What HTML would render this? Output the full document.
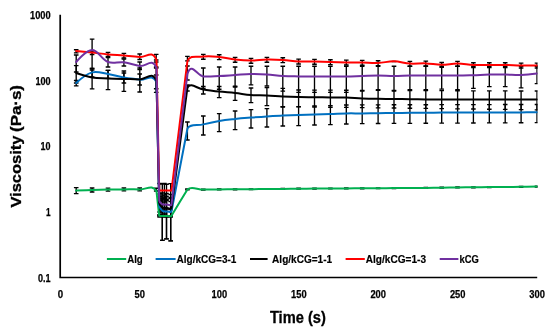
<!DOCTYPE html>
<html lang="en"><head><meta charset="utf-8"><title>Viscosity vs Time</title>
<style>html,body{margin:0;padding:0;background:#fff}body{width:550px;height:333px;overflow:hidden}</style></head>
<body>
<svg width="550" height="333" viewBox="0 0 550 333" style="display:block">
<rect width="550" height="333" fill="#fff"/>
<defs><clipPath id="pc"><rect x="60" y="10" width="477.6" height="268"/></clipPath></defs>
<g clip-path="url(#pc)">
<path d="M76.2 187.6V193.6M73.9 187.6h4.6M73.9 193.6h4.6M92.1 188.0V192.0M89.8 188.0h4.6M89.8 192.0h4.6M108.0 188.1V191.1M105.7 188.1h4.6M105.7 191.1h4.6M123.9 188.0V190.8M121.6 188.0h4.6M121.6 190.8h4.6M139.8 188.0V190.8M137.4 188.0h4.6M137.4 190.8h4.6M156.2 188.2V191.0M153.9 188.2h4.6M153.9 191.0h4.6M159.6 212.0V217.0M157.3 212.0h4.6M157.3 217.0h4.6M162.3 210.0V217.0M160.0 210.0h4.6M160.0 217.0h4.6M164.4 211.0V217.0M162.1 211.0h4.6M162.1 217.0h4.6M166.5 209.0V217.0M164.2 209.0h4.6M164.2 217.0h4.6M170.7 209.5V217.0M168.4 209.5h4.6M168.4 217.0h4.6M187.4 189.0V189.8M185.1 189.0h4.6M185.1 189.8h4.6M203.3 189.2V190.0M201.0 189.2h4.6M201.0 190.0h4.6M219.2 189.0V189.8M216.9 189.0h4.6M216.9 189.8h4.6M235.1 188.9V189.8M232.8 188.9h4.6M232.8 189.8h4.6M251.0 188.8V189.6M248.7 188.8h4.6M248.7 189.6h4.6M266.9 188.6V189.4M264.6 188.6h4.6M264.6 189.4h4.6M282.8 188.5V189.3M280.5 188.5h4.6M280.5 189.3h4.6M298.6 188.2V189.1M296.3 188.2h4.6M296.3 189.1h4.6M314.5 188.2V189.0M312.2 188.2h4.6M312.2 189.0h4.6M330.4 188.1V188.9M328.1 188.1h4.6M328.1 188.9h4.6M346.3 188.0V188.8M344.0 188.0h4.6M344.0 188.8h4.6M362.2 187.9V188.8M359.9 187.9h4.6M359.9 188.8h4.6M378.1 187.8V188.6M375.8 187.8h4.6M375.8 188.6h4.6M394.0 187.7V188.5M391.7 187.7h4.6M391.7 188.5h4.6M409.9 187.6V188.4M407.6 187.6h4.6M407.6 188.4h4.6M425.8 187.5V188.3M423.5 187.5h4.6M423.5 188.3h4.6M441.7 187.2V188.1M439.4 187.2h4.6M439.4 188.1h4.6M457.6 187.0V187.8M455.2 187.0h4.6M455.2 187.8h4.6M473.4 186.9V187.8M471.1 186.9h4.6M471.1 187.8h4.6M489.3 186.7V187.5M487.0 186.7h4.6M487.0 187.5h4.6M505.2 186.6V187.4M502.9 186.6h4.6M502.9 187.4h4.6M521.1 186.4V187.2M518.8 186.4h4.6M518.8 187.2h4.6M537.0 186.2V187.0M534.7 186.2h4.6M534.7 187.0h4.6" stroke="#000" stroke-width="1.35" fill="none"/>
<path d="M76.2 80.5V85.8M73.9 80.5h4.6M73.9 85.8h4.6M92.1 68.5V77.0M89.8 68.5h4.6M89.8 77.0h4.6M108.0 70.4V78.4M105.7 70.4h4.6M105.7 78.4h4.6M123.9 73.0V83.0M121.6 73.0h4.6M121.6 83.0h4.6M139.8 74.0V85.0M137.4 74.0h4.6M137.4 85.0h4.6M156.2 75.0V88.7M153.9 75.0h4.6M153.9 88.7h4.6M159.6 201.0V216.0M157.3 201.0h4.6M157.3 216.0h4.6M162.3 200.0V240.4M160.0 200.0h4.6M160.0 240.4h4.6M164.4 202.0V216.5M162.1 202.0h4.6M162.1 216.5h4.6M166.5 200.5V238.8M164.2 200.5h4.6M164.2 238.8h4.6M170.7 201.5V240.8M168.4 201.5h4.6M168.4 240.8h4.6M187.4 122.0V140.0M185.1 122.0h4.6M185.1 140.0h4.6M203.3 116.0V135.0M201.0 116.0h4.6M201.0 135.0h4.6M219.2 113.6V131.6M216.9 113.6h4.6M216.9 131.6h4.6M235.1 111.0V129.6M232.8 111.0h4.6M232.8 129.6h4.6M251.0 109.6V128.0M248.7 109.6h4.6M248.7 128.0h4.6M266.9 108.6V127.0M264.6 108.6h4.6M264.6 127.0h4.6M282.8 107.0V126.0M280.5 107.0h4.6M280.5 126.0h4.6M298.6 106.6V125.6M296.3 106.6h4.6M296.3 125.6h4.6M314.5 106.0V125.0M312.2 106.0h4.6M312.2 125.0h4.6M330.4 105.6V124.6M328.1 105.6h4.6M328.1 124.6h4.6M346.3 105.0V124.0M344.0 105.0h4.6M344.0 124.0h4.6M362.2 104.8V123.6M359.9 104.8h4.6M359.9 123.6h4.6M378.1 104.8V123.5M375.8 104.8h4.6M375.8 123.5h4.6M394.0 104.7V123.4M391.7 104.7h4.6M391.7 123.4h4.6M409.9 104.7V123.3M407.6 104.7h4.6M407.6 123.3h4.6M425.8 104.7V123.2M423.5 104.7h4.6M423.5 123.2h4.6M441.7 104.6V123.1M439.4 104.6h4.6M439.4 123.1h4.6M457.6 104.6V123.1M455.2 104.6h4.6M455.2 123.1h4.6M473.4 104.6V123.0M471.1 104.6h4.6M471.1 123.0h4.6M489.3 104.6V122.9M487.0 104.6h4.6M487.0 122.9h4.6M505.2 104.5V122.8M502.9 104.5h4.6M502.9 122.8h4.6M521.1 104.5V122.7M518.8 104.5h4.6M518.8 122.7h4.6M537.0 104.5V122.6M534.7 104.5h4.6M534.7 122.6h4.6" stroke="#000" stroke-width="1.35" fill="none"/>
<path d="M76.2 65.6V83.0M73.9 65.6h4.6M73.9 83.0h4.6M92.1 70.0V88.9M89.8 70.0h4.6M89.8 88.9h4.6M108.0 70.4V89.6M105.7 70.4h4.6M105.7 89.6h4.6M123.9 71.0V91.3M121.6 71.0h4.6M121.6 91.3h4.6M139.8 68.0V92.0M137.4 68.0h4.6M137.4 92.0h4.6M156.2 68.0V92.3M153.9 68.0h4.6M153.9 92.3h4.6M159.6 197.0V215.0M157.3 197.0h4.6M157.3 215.0h4.6M162.3 196.0V240.4M160.0 196.0h4.6M160.0 240.4h4.6M164.4 198.0V216.0M162.1 198.0h4.6M162.1 216.0h4.6M166.5 196.5V238.8M164.2 196.5h4.6M164.2 238.8h4.6M170.7 197.5V240.8M168.4 197.5h4.6M168.4 240.8h4.6M187.4 85.0V91.0M185.1 85.0h4.6M185.1 91.0h4.6M203.3 86.5V94.0M201.0 86.5h4.6M201.0 94.0h4.6M219.2 86.5V97.6M216.9 86.5h4.6M216.9 97.6h4.6M235.1 87.0V100.4M232.8 87.0h4.6M232.8 100.4h4.6M251.0 88.0V102.6M248.7 88.0h4.6M248.7 102.6h4.6M266.9 87.6V105.6M264.6 87.6h4.6M264.6 105.6h4.6M282.8 88.4V106.6M280.5 88.4h4.6M280.5 106.6h4.6M298.6 90.0V106.8M296.3 90.0h4.6M296.3 106.8h4.6M314.5 90.1V107.0M312.2 90.1h4.6M312.2 107.0h4.6M330.4 90.1V107.2M328.1 90.1h4.6M328.1 107.2h4.6M346.3 90.2V107.4M344.0 90.2h4.6M344.0 107.4h4.6M362.2 90.3V107.6M359.9 90.3h4.6M359.9 107.6h4.6M378.1 90.3V107.8M375.8 90.3h4.6M375.8 107.8h4.6M394.0 90.4V108.0M391.7 90.4h4.6M391.7 108.0h4.6M409.9 90.5V108.2M407.6 90.5h4.6M407.6 108.2h4.6M425.8 90.6V108.4M423.5 90.6h4.6M423.5 108.4h4.6M441.7 90.6V108.6M439.4 90.6h4.6M439.4 108.6h4.6M457.6 90.7V108.8M455.2 90.7h4.6M455.2 108.8h4.6M473.4 90.8V109.0M471.1 90.8h4.6M471.1 109.0h4.6M489.3 90.8V109.2M487.0 90.8h4.6M487.0 109.2h4.6M505.2 90.9V109.4M502.9 90.9h4.6M502.9 109.4h4.6M521.1 91.0V109.6M518.8 91.0h4.6M518.8 109.6h4.6M537.0 91.0V109.8M534.7 91.0h4.6M534.7 109.8h4.6" stroke="#000" stroke-width="1.35" fill="none"/>
<path d="M76.2 49.7V52.8M73.9 49.7h4.6M73.9 52.8h4.6M92.1 51.0V54.5M89.8 51.0h4.6M89.8 54.5h4.6M108.0 52.4V56.5M105.7 52.4h4.6M105.7 56.5h4.6M123.9 53.3V58.0M121.6 53.3h4.6M121.6 58.0h4.6M139.8 54.0V59.5M137.4 54.0h4.6M137.4 59.5h4.6M156.2 54.4V60.0M153.9 54.4h4.6M153.9 60.0h4.6M159.6 183.5V198.5M157.3 183.5h4.6M157.3 198.5h4.6M162.3 184.0V199.0M160.0 184.0h4.6M160.0 199.0h4.6M164.4 183.3V198.0M162.1 183.3h4.6M162.1 198.0h4.6M166.5 184.2V199.4M164.2 184.2h4.6M164.2 199.4h4.6M170.7 183.6V198.6M168.4 183.6h4.6M168.4 198.6h4.6M187.4 56.3V60.8M185.1 56.3h4.6M185.1 60.8h4.6M203.3 54.3V59.2M201.0 54.3h4.6M201.0 59.2h4.6M219.2 54.7V59.6M216.9 54.7h4.6M216.9 59.6h4.6M235.1 57.3V62.2M232.8 57.3h4.6M232.8 62.2h4.6M251.0 58.3V63.2M248.7 58.3h4.6M248.7 63.2h4.6M266.9 57.3V62.2M264.6 57.3h4.6M264.6 62.2h4.6M282.8 57.7V62.6M280.5 57.7h4.6M280.5 62.6h4.6M298.6 59.1V64.0M296.3 59.1h4.6M296.3 64.0h4.6M314.5 59.3V64.2M312.2 59.3h4.6M312.2 64.2h4.6M330.4 59.7V64.6M328.1 59.7h4.6M328.1 64.6h4.6M346.3 60.1V65.0M344.0 60.1h4.6M344.0 65.0h4.6M362.2 60.3V65.2M359.9 60.3h4.6M359.9 65.2h4.6M378.1 60.7V65.6M375.8 60.7h4.6M375.8 65.6h4.6M394.0 61.5V61.5M391.7 61.5h4.6M391.7 61.5h4.6M409.9 61.3V66.2M407.6 61.3h4.6M407.6 66.2h4.6M425.8 61.1V66.0M423.5 61.1h4.6M423.5 66.0h4.6M441.7 62.5V67.4M439.4 62.5h4.6M439.4 67.4h4.6M457.6 61.3V66.2M455.2 61.3h4.6M455.2 66.2h4.6M473.4 62.7V67.6M471.1 62.7h4.6M471.1 67.6h4.6M489.3 62.7V67.6M487.0 62.7h4.6M487.0 67.6h4.6M505.2 62.7V67.6M502.9 62.7h4.6M502.9 67.6h4.6M521.1 63.1V68.0M518.8 63.1h4.6M518.8 68.0h4.6M537.0 63.1V68.0M534.7 63.1h4.6M534.7 68.0h4.6" stroke="#000" stroke-width="1.35" fill="none"/>
<path d="M76.2 55.0V72.0M73.9 55.0h4.6M73.9 72.0h4.6M92.1 39.1V68.5M89.8 39.1h4.6M89.8 68.5h4.6M108.0 57.5V67.0M105.7 57.5h4.6M105.7 67.0h4.6M123.9 59.0V66.0M121.6 59.0h4.6M121.6 66.0h4.6M139.8 62.0V69.5M137.4 62.0h4.6M137.4 69.5h4.6M156.2 62.0V67.0M153.9 62.0h4.6M153.9 67.0h4.6M159.6 194.0V215.0M157.3 194.0h4.6M157.3 215.0h4.6M162.3 193.0V216.0M160.0 193.0h4.6M160.0 216.0h4.6M164.4 195.0V214.0M162.1 195.0h4.6M162.1 214.0h4.6M166.5 193.5V216.5M164.2 193.5h4.6M164.2 216.5h4.6M170.7 194.5V216.0M168.4 194.5h4.6M168.4 216.0h4.6M187.4 66.0V80.0M185.1 66.0h4.6M185.1 80.0h4.6M203.3 68.0V88.4M201.0 68.0h4.6M201.0 88.4h4.6M219.2 67.0V89.2M216.9 67.0h4.6M216.9 89.2h4.6M235.1 67.0V86.2M232.8 67.0h4.6M232.8 86.2h4.6M251.0 66.2V84.8M248.7 66.2h4.6M248.7 84.8h4.6M266.9 66.2V86.0M264.6 66.2h4.6M264.6 86.0h4.6M282.8 66.2V91.1M280.5 66.2h4.6M280.5 91.1h4.6M298.6 66.2V92.4M296.3 66.2h4.6M296.3 92.4h4.6M314.5 66.2V92.4M312.2 66.2h4.6M312.2 92.4h4.6M330.4 66.2V92.4M328.1 66.2h4.6M328.1 92.4h4.6M346.3 66.2V92.4M344.0 66.2h4.6M344.0 92.4h4.6M362.2 66.2V91.1M359.9 66.2h4.6M359.9 91.1h4.6M378.1 66.2V89.7M375.8 66.2h4.6M375.8 89.7h4.6M394.0 66.2V91.1M391.7 66.2h4.6M391.7 91.1h4.6M409.9 66.2V89.7M407.6 66.2h4.6M407.6 89.7h4.6M425.8 66.2V89.7M423.5 66.2h4.6M423.5 89.7h4.6M441.7 66.2V89.1M439.4 66.2h4.6M439.4 89.1h4.6M457.6 66.2V89.7M455.2 66.2h4.6M455.2 89.7h4.6M473.4 66.2V88.4M471.1 66.2h4.6M471.1 88.4h4.6M489.3 66.2V86.6M487.0 66.2h4.6M487.0 86.6h4.6M505.2 66.2V86.6M502.9 66.2h4.6M502.9 86.6h4.6M521.1 66.2V87.8M518.8 66.2h4.6M518.8 87.8h4.6M537.0 66.2V83.6M534.7 66.2h4.6M534.7 83.6h4.6" stroke="#000" stroke-width="1.35" fill="none"/>
<path d="M76.19 190.60 C76.19 190.60 86.04 190.19 92.08 190.00 C98.12 189.81 101.93 189.71 107.97 189.60 C114.01 189.49 117.82 189.44 123.86 189.40 C129.90 189.36 133.74 189.01 139.75 189.40 C146.14 189.81 152.00 183.50 156.50 191.50 C157.40 199.53 158.30 207.57 159.20 215.60 C159.44 216.63 161.06 215.84 162.20 215.90 C163.11 215.95 163.69 215.90 164.60 215.90 C165.59 215.90 166.21 215.91 167.20 215.90 C168.83 215.88 170.56 217.03 171.50 215.80 C176.81 207.00 182.11 198.20 187.42 189.40 C191.53 186.01 197.27 189.60 203.31 189.60 C209.35 189.60 213.16 189.46 219.20 189.40 C225.24 189.34 229.05 189.34 235.09 189.30 C241.13 189.26 244.94 189.26 250.98 189.20 C257.02 189.14 260.83 189.06 266.87 189.00 C272.91 188.94 276.72 188.96 282.76 188.90 C288.80 188.84 292.61 188.76 298.65 188.70 C304.69 188.64 308.50 188.64 314.54 188.60 C320.58 188.56 324.39 188.54 330.43 188.50 C336.47 188.46 340.28 188.44 346.32 188.40 C352.36 188.36 356.17 188.34 362.21 188.30 C368.25 188.26 372.06 188.24 378.10 188.20 C384.14 188.16 387.95 188.14 393.99 188.10 C400.03 188.06 403.84 188.04 409.88 188.00 C415.92 187.96 419.73 187.96 425.77 187.90 C431.81 187.84 435.62 187.79 441.66 187.70 C447.70 187.60 451.51 187.48 457.55 187.40 C463.59 187.32 467.40 187.36 473.44 187.30 C479.48 187.24 483.29 187.16 489.33 187.10 C495.37 187.04 499.18 187.06 505.22 187.00 C511.26 186.94 515.07 186.88 521.11 186.80 C527.15 186.72 537.00 186.60 537.00 186.60" stroke="#00b050" stroke-width="2" fill="none" stroke-linejoin="round" stroke-linecap="round"/>
<path d="M76.19 83.00 C76.19 83.00 85.50 74.26 92.08 72.40 C97.58 70.84 101.99 73.02 107.97 74.00 C114.07 75.00 117.77 76.53 123.86 77.60 C129.85 78.65 133.72 78.79 139.75 79.60 C146.12 80.46 152.00 73.00 156.50 82.00 C157.40 123.17 158.30 164.33 159.20 205.50 C159.30 207.73 160.76 209.03 162.20 210.60 C162.81 211.27 163.66 211.25 164.60 211.40 C165.56 211.55 166.21 211.41 167.20 211.40 C168.83 211.38 171.13 212.83 171.50 211.30 C176.81 183.80 182.11 156.30 187.42 128.80 C188.92 123.80 197.23 125.89 203.31 124.40 C209.30 122.93 213.12 122.03 219.20 121.00 C225.19 119.98 229.04 119.65 235.09 119.00 C241.12 118.36 244.94 118.09 250.98 117.60 C257.02 117.11 260.83 116.78 266.87 116.40 C272.90 116.02 276.72 115.87 282.76 115.60 C288.80 115.33 292.61 115.23 298.65 115.00 C304.69 114.77 308.50 114.59 314.54 114.40 C320.58 114.21 324.39 114.19 330.43 114.00 C336.47 113.81 340.28 113.51 346.32 113.40 C352.36 113.29 356.17 113.44 362.21 113.40 C368.25 113.36 372.06 113.28 378.10 113.20 C384.14 113.12 387.95 113.08 393.99 113.00 C400.03 112.92 403.84 112.86 409.88 112.80 C415.92 112.74 419.73 112.74 425.77 112.70 C431.81 112.66 435.62 112.66 441.66 112.60 C447.70 112.54 451.51 112.44 457.55 112.40 C463.59 112.36 467.40 112.40 473.44 112.40 C479.48 112.40 483.29 112.40 489.33 112.40 C495.37 112.40 499.18 112.40 505.22 112.40 C511.26 112.40 515.07 112.44 521.11 112.40 C527.15 112.36 537.00 112.20 537.00 112.20" stroke="#0070c0" stroke-width="2" fill="none" stroke-linejoin="round" stroke-linecap="round"/>
<path d="M76.19 73.00 C76.19 73.00 85.94 76.36 92.08 77.40 C98.01 78.41 101.93 78.10 107.97 78.40 C114.00 78.70 117.82 78.81 123.86 79.00 C129.90 79.19 133.72 79.03 139.75 79.40 C146.13 79.79 152.00 70.00 156.50 81.00 C157.40 121.67 158.30 162.33 159.20 203.00 C159.29 205.01 160.80 206.10 162.20 207.40 C162.85 208.00 163.67 207.89 164.60 208.00 C165.57 208.12 166.21 208.00 167.20 208.00 C168.83 208.00 171.24 209.56 171.50 208.00 C176.81 167.90 182.11 127.80 187.42 87.70 C190.42 81.70 197.28 88.76 203.31 89.50 C209.36 90.24 213.15 90.93 219.20 91.60 C225.22 92.26 229.06 92.36 235.09 93.00 C241.14 93.65 244.92 94.54 250.98 95.00 C257.00 95.45 260.84 95.13 266.87 95.40 C272.91 95.67 276.72 96.10 282.76 96.40 C288.79 96.70 292.61 96.85 298.65 97.00 C304.69 97.15 308.50 97.12 314.54 97.20 C320.58 97.28 324.39 97.32 330.43 97.40 C336.47 97.48 340.29 97.41 346.32 97.60 C352.36 97.79 356.17 98.17 362.21 98.40 C368.25 98.63 372.06 98.69 378.10 98.80 C384.14 98.91 387.95 98.92 393.99 99.00 C400.03 99.08 403.84 99.12 409.88 99.20 C415.92 99.28 419.73 99.34 425.77 99.40 C431.81 99.46 435.62 99.46 441.66 99.50 C447.70 99.54 451.51 99.58 457.55 99.60 C463.59 99.62 467.40 99.60 473.44 99.60 C479.48 99.60 483.29 99.60 489.33 99.60 C495.37 99.60 499.18 99.60 505.22 99.60 C511.26 99.60 515.07 99.60 521.11 99.60 C527.15 99.60 537.00 99.60 537.00 99.60" stroke="#000000" stroke-width="2" fill="none" stroke-linejoin="round" stroke-linecap="round"/>
<path d="M76.19 51.00 C76.19 51.00 86.05 51.95 92.08 52.60 C98.12 53.25 101.92 53.83 107.97 54.40 C114.00 54.97 117.82 55.11 123.86 55.60 C129.90 56.09 133.75 56.19 139.75 57.00 C146.15 57.86 152.00 49.00 156.50 60.00 C157.40 103.53 158.30 147.07 159.20 190.60 C160.20 190.60 161.06 190.60 162.20 190.60 C163.11 190.60 163.69 190.60 164.60 190.60 C165.59 190.60 166.21 190.60 167.20 190.60 C168.83 190.60 170.50 190.60 171.50 190.60 C176.81 147.40 182.11 104.20 187.42 61.00 C189.92 54.50 197.16 57.37 203.31 56.60 C209.24 55.85 213.20 56.43 219.20 57.00 C225.28 57.57 229.02 58.91 235.09 59.60 C241.09 60.28 244.94 60.60 250.98 60.60 C257.02 60.60 260.83 59.71 266.87 59.60 C272.90 59.49 276.73 59.66 282.76 60.00 C288.81 60.34 292.60 61.10 298.65 61.40 C304.68 61.70 308.50 61.49 314.54 61.60 C320.58 61.71 324.39 61.85 330.43 62.00 C336.47 62.15 340.28 62.29 346.32 62.40 C352.36 62.51 356.17 62.49 362.21 62.60 C368.25 62.71 372.08 63.25 378.10 63.00 C384.15 62.75 387.97 61.19 393.99 61.30 C400.04 61.41 403.81 63.20 409.88 63.60 C415.89 64.00 419.74 63.17 425.77 63.40 C431.82 63.63 435.62 64.76 441.66 64.80 C447.70 64.84 451.51 63.56 457.55 63.60 C463.59 63.64 467.39 64.73 473.44 65.00 C479.47 65.27 483.29 65.00 489.33 65.00 C495.37 65.00 499.18 64.92 505.22 65.00 C511.26 65.08 515.07 65.32 521.11 65.40 C527.15 65.48 537.00 65.40 537.00 65.40" stroke="#ff0000" stroke-width="2" fill="none" stroke-linejoin="round" stroke-linecap="round"/>
<path d="M76.19 62.00 C76.19 62.00 86.04 50.00 92.08 50.00 C98.12 50.00 101.25 59.40 107.97 62.00 C113.33 64.07 117.90 61.55 123.86 62.30 C129.98 63.07 133.65 64.94 139.75 66.00 C146.06 67.10 152.00 57.00 156.50 68.00 C157.40 112.17 158.30 156.33 159.20 200.50 C159.28 202.30 160.84 203.17 162.20 204.20 C162.89 204.73 163.68 204.53 164.60 204.60 C165.58 204.68 166.21 204.61 167.20 204.60 C168.83 204.58 171.26 206.07 171.50 204.50 C176.81 161.00 182.11 117.50 187.42 74.00 C191.42 61.00 197.24 76.02 203.31 76.40 C209.32 76.78 213.17 76.27 219.20 76.00 C225.24 75.73 229.05 75.38 235.09 75.00 C241.13 74.62 244.94 74.11 250.98 74.00 C257.01 73.89 260.85 74.02 266.87 74.40 C272.92 74.78 276.71 75.62 282.76 76.00 C288.78 76.38 292.61 76.32 298.65 76.40 C304.69 76.48 308.50 76.40 314.54 76.40 C320.58 76.40 324.39 76.40 330.43 76.40 C336.47 76.40 340.28 76.48 346.32 76.40 C352.36 76.32 356.17 76.15 362.21 76.00 C368.25 75.85 372.06 75.60 378.10 75.60 C384.14 75.60 387.95 76.00 393.99 76.00 C400.03 76.00 403.84 75.68 409.88 75.60 C415.92 75.52 419.73 75.64 425.77 75.60 C431.81 75.56 435.62 75.40 441.66 75.40 C447.70 75.40 451.51 75.64 457.55 75.60 C463.59 75.56 467.40 75.39 473.44 75.20 C479.48 75.01 483.29 74.71 489.33 74.60 C495.37 74.49 499.18 74.52 505.22 74.60 C511.26 74.68 515.08 75.19 521.11 75.00 C527.16 74.81 537.00 73.60 537.00 73.60" stroke="#7030a0" stroke-width="2" fill="none" stroke-linejoin="round" stroke-linecap="round"/>
</g>
<path d="M60.2 14.8V277.5H537.2" stroke="#000" stroke-width="1.7" fill="none" stroke-linejoin="miter"/>
<text x="50.6" y="18.9" font-size="10.6" text-anchor="end" textLength="20.6" lengthAdjust="spacingAndGlyphs" font-family="Liberation Sans, Arial, sans-serif" font-weight="bold" fill="#000" stroke="#000" stroke-width="0.25">1000</text>
<text x="50.6" y="84.6" font-size="10.6" text-anchor="end" textLength="15.2" lengthAdjust="spacingAndGlyphs" font-family="Liberation Sans, Arial, sans-serif" font-weight="bold" fill="#000" stroke="#000" stroke-width="0.25">100</text>
<text x="50.6" y="150.2" font-size="10.6" text-anchor="end" textLength="10.0" lengthAdjust="spacingAndGlyphs" font-family="Liberation Sans, Arial, sans-serif" font-weight="bold" fill="#000" stroke="#000" stroke-width="0.25">10</text>
<text x="50.6" y="215.9" font-size="10.6" text-anchor="end" textLength="4.6" lengthAdjust="spacingAndGlyphs" font-family="Liberation Sans, Arial, sans-serif" font-weight="bold" fill="#000" stroke="#000" stroke-width="0.25">1</text>
<text x="50.6" y="281.6" font-size="10.6" text-anchor="end" textLength="12.6" lengthAdjust="spacingAndGlyphs" font-family="Liberation Sans, Arial, sans-serif" font-weight="bold" fill="#000" stroke="#000" stroke-width="0.25">0.1</text>
<text x="60.4" y="298.2" font-size="10.6" text-anchor="middle" textLength="5.4" lengthAdjust="spacingAndGlyphs" font-family="Liberation Sans, Arial, sans-serif" font-weight="bold" fill="#000" stroke="#000" stroke-width="0.25">0</text>
<text x="139.8" y="298.2" font-size="10.6" text-anchor="middle" textLength="10.4" lengthAdjust="spacingAndGlyphs" font-family="Liberation Sans, Arial, sans-serif" font-weight="bold" fill="#000" stroke="#000" stroke-width="0.25">50</text>
<text x="219.3" y="298.2" font-size="10.6" text-anchor="middle" textLength="15.6" lengthAdjust="spacingAndGlyphs" font-family="Liberation Sans, Arial, sans-serif" font-weight="bold" fill="#000" stroke="#000" stroke-width="0.25">100</text>
<text x="298.8" y="298.2" font-size="10.6" text-anchor="middle" textLength="15.6" lengthAdjust="spacingAndGlyphs" font-family="Liberation Sans, Arial, sans-serif" font-weight="bold" fill="#000" stroke="#000" stroke-width="0.25">150</text>
<text x="378.2" y="298.2" font-size="10.6" text-anchor="middle" textLength="15.6" lengthAdjust="spacingAndGlyphs" font-family="Liberation Sans, Arial, sans-serif" font-weight="bold" fill="#000" stroke="#000" stroke-width="0.25">200</text>
<text x="457.7" y="298.2" font-size="10.6" text-anchor="middle" textLength="15.6" lengthAdjust="spacingAndGlyphs" font-family="Liberation Sans, Arial, sans-serif" font-weight="bold" fill="#000" stroke="#000" stroke-width="0.25">250</text>
<text x="537.1" y="298.2" font-size="10.6" text-anchor="middle" textLength="15.6" lengthAdjust="spacingAndGlyphs" font-family="Liberation Sans, Arial, sans-serif" font-weight="bold" fill="#000" stroke="#000" stroke-width="0.25">300</text>
<text x="297.9" y="322.9" font-size="15.8" text-anchor="middle" textLength="56.0" lengthAdjust="spacingAndGlyphs" font-family="Liberation Sans, Arial, sans-serif" font-weight="bold" fill="#000" stroke="#000" stroke-width="0.3">Time (s)</text>
<text transform="translate(20.8,207.6) rotate(-90)" font-size="14.7" stroke="#000" stroke-width="0.3" font-family="Liberation Sans, Arial, sans-serif" font-weight="bold" fill="#000"><tspan x="0" textLength="72" lengthAdjust="spacingAndGlyphs">Viscosity</tspan> <tspan x="75.6" textLength="47" lengthAdjust="spacingAndGlyphs">(Pa·s)</tspan></text>
<path d="M106.9 259H126.2" stroke="#00b050" stroke-width="2"/>
<text x="127.2" y="263.1" font-size="11.8" text-anchor="start" textLength="15.6" lengthAdjust="spacingAndGlyphs" font-family="Liberation Sans, Arial, sans-serif" font-weight="bold" fill="#000" stroke="#000" stroke-width="0.2">Alg</text>
<path d="M155.6 259H175.6" stroke="#0070c0" stroke-width="2"/>
<text x="176.6" y="263.1" font-size="11.8" text-anchor="start" textLength="59.8" lengthAdjust="spacingAndGlyphs" font-family="Liberation Sans, Arial, sans-serif" font-weight="bold" fill="#000" stroke="#000" stroke-width="0.2">Alg/kCG=3-1</text>
<path d="M250.0 259H267.6" stroke="#000000" stroke-width="2"/>
<text x="272.1" y="263.1" font-size="11.8" text-anchor="start" textLength="60.0" lengthAdjust="spacingAndGlyphs" font-family="Liberation Sans, Arial, sans-serif" font-weight="bold" fill="#000" stroke="#000" stroke-width="0.2">Alg/kCG=1-1</text>
<path d="M345.6 259H364.8" stroke="#ff0000" stroke-width="2"/>
<text x="365.8" y="263.1" font-size="11.8" text-anchor="start" textLength="60.2" lengthAdjust="spacingAndGlyphs" font-family="Liberation Sans, Arial, sans-serif" font-weight="bold" fill="#000" stroke="#000" stroke-width="0.2">Alg/kCG=1-3</text>
<path d="M439.7 259H458.4" stroke="#7030a0" stroke-width="2"/>
<text x="459.4" y="263.1" font-size="11.8" text-anchor="start" textLength="19.4" lengthAdjust="spacingAndGlyphs" font-family="Liberation Sans, Arial, sans-serif" font-weight="bold" fill="#000" stroke="#000" stroke-width="0.2">kCG</text>
</svg>
</body></html>
